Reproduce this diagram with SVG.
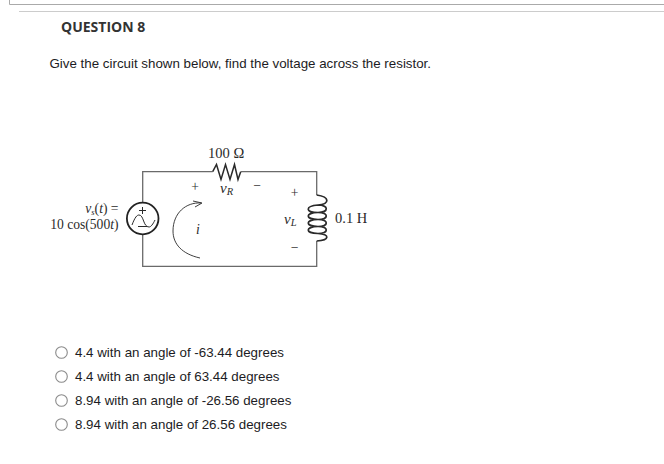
<svg xmlns="http://www.w3.org/2000/svg" width="664" height="464" viewBox="0 0 664 464">
<style>
.s{font-family:"Liberation Sans",Arial,sans-serif;font-size:13.33px;fill:#1c1c24}
.h{font-family:"Open Sans",sans-serif;font-weight:700;font-size:14px;fill:#333}
.m{font-family:"Liberation Serif","Times New Roman",serif;font-size:13.600px;fill:#2a2a2a}
.c{text-anchor:middle}
.i{font-style:italic}
.w{fill:none;stroke:#6a6a6a;stroke-width:1.3}
.k{fill:none;stroke:#2a2a2a;stroke-width:1.2}
.r{fill:#fff;stroke:#8a8a8a;stroke-width:1.1}
</style>
<rect width="664" height="464" fill="#fff"/>
<path d="M9.500 0V4.500H664" fill="none" stroke="#aaa" stroke-width="1"/>
<path d="M19 11.500H664" fill="none" stroke="#ccc" stroke-width="1"/>
<text class="h" x="61" y="32">QUESTION 8</text>
<text class="s" x="49.500" y="68">Give the circuit shown below, find the voltage across the resistor.</text>
<g id="connectors">
<path class="w" d="M142.700 202V171.700H212.700M240.700 171.700H316.700V195M316.700 241V266.300H142.700V234"/>
</g>
<g id="resistor">
<path class="k" style="stroke-width:1.500" d="M212.700 171.700L216.500 164.500L221 179.500L225.500 164.500L230 179.500L234.500 164.500L238 179.500L240.700 171.700"/>
<text class="m" x="208" y="158" style="font-size:14.500px">100 Ω</text>
<text class="m c" x="195" y="191">+</text>
<text class="m i" x="220" y="193" style="font-size:15px">v<tspan font-size="10.500" dy="2">R</tspan></text>
<text class="m c" x="257" y="190">−</text>
</g>
<g id="source">
<circle cx="142.700" cy="218.500" r="15.800" fill="#fff" stroke="#222" stroke-width="1.800"/>
<path class="k" style="stroke-width:1" d="M132 225C135 217 137 215 139 215C144 215 143 227 149 227C151 227 153 224 155 220M138 226.500H147M142.500 207V214M139 210.500H146"/>
<text class="m" x="118.500" y="213" text-anchor="end"><tspan class="i">v</tspan><tspan class="i" font-size="8.500" dy="1.500">s</tspan><tspan dy="-1.500">(</tspan><tspan class="i">t</tspan>) =</text>
<text class="m" x="118.500" y="229" text-anchor="end">10 cos(500<tspan class="i">t</tspan>)</text>
</g>
<g id="current">
<path class="k" style="stroke-width:0.900" d="M201 203C186 202 173 213 173 231C173 244 182 254 200 258"/>
<path class="k" style="stroke-width:0.900" d="M193 201L202 203L195 207"/>
<text class="m i c" x="198" y="234">i</text>
</g>
<g id="inductor">
<path class="k" style="stroke-width:1.700" d="M316.700 195C330 197 330 204 318 205C305 206 305 212.500 318 212.500C329 212.500 329 205 318 205M318 212.500C305 212.500 305 219.500 318 219.500C329 219.500 329 212.500 318 212.500M318 219.500C305 219.500 305 226.500 318 226.500C329 226.500 329 219.500 318 219.500M318 226.500C305 226.500 305 233.500 318 233.500C329 233.500 329 226.500 318 226.500M318 233.500C330 234 330 240 316.700 241"/>
<text class="m c" x="294.500" y="197">+</text>
<text class="m i" x="284" y="224" style="font-size:15px">v<tspan font-size="10.500" dy="2">L</tspan></text>
<text class="m c" x="294.500" y="252">−</text>
<text class="m" x="335" y="223" style="font-size:14.500px">0.1 H</text>
</g>
<g id="options">
<circle class="r" cx="61.500" cy="352.500" r="5.800"/>
<circle class="r" cx="61.500" cy="376.500" r="5.800"/>
<circle class="r" cx="61.500" cy="400.500" r="5.800"/>
<circle class="r" cx="61.500" cy="424.500" r="5.800"/>
<text class="s" x="75" y="357">4.4 with an angle of -63.44 degrees</text>
<text class="s" x="75" y="381">4.4 with an angle of 63.44 degrees</text>
<text class="s" x="75" y="405">8.94 with an angle of -26.56 degrees</text>
<text class="s" x="75" y="429">8.94 with an angle of 26.56 degrees</text>
</g>
</svg>
